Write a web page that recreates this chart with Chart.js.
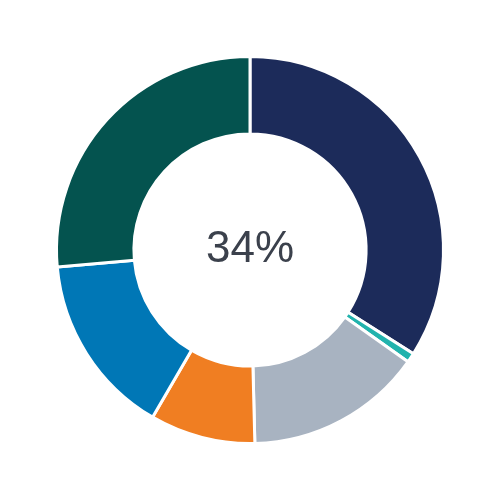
<!DOCTYPE html>
<html>
<head>
<meta charset="utf-8">
<script src="https://cdn.jsdelivr.net/npm/chart.js@4.4.1/dist/chart.umd.min.js"></script>
<style>
  html, body { margin: 0; padding: 0; background: #fff; }
  #wrap { width: 500px; height: 500px; }
</style>
</head>
<body>
<div id="wrap"><canvas id="chartCanvas" width="500" height="500"></canvas></div>
<script>
const labels = ['A', 'B', 'C', 'D', 'E', 'F'];
const values = [34, 0.8, 14.8, 8.8, 15.2, 26.4];
const colors = ['#1c2b5a', '#22b3ad', '#a8b3c1', '#f07e22', '#0077b6', '#04534f'];
const centerLabel = '34%';

// draws the big number in the hole
const centerText = {
    id: 'centerText',
    afterDraw(chart) {
        const ctx = chart.ctx;
        const meta = chart.getDatasetMeta(0);
        const x = meta.data[0].x;
        const y = meta.data[0].y;
        ctx.save();
        ctx.font = '44px "Liberation Sans", Arial, sans-serif';
        ctx.fillStyle = '#3b414c';
        ctx.textAlign = 'center';
        ctx.textBaseline = 'middle';
        ctx.fillText(centerLabel, x, y);
        ctx.restore();
    }
};

new Chart(document.getElementById('chartCanvas').getContext('2d'), {
    type: 'doughnut',
    data: {
        labels: labels,
        datasets: [{
            data: values,
            backgroundColor: colors,
            borderColor: '#ffffff',
            borderWidth: 3,
            hoverOffset: 0
        }]
    },
    options: {
        responsive: false,
        animation: false,
        cutout: '60%',
        layout: { padding: 55 },
        plugins: {
            legend: { display: false },
            tooltip: { enabled: false }
        }
    },
    plugins: [centerText]
});
</script>
</body>
</html>
